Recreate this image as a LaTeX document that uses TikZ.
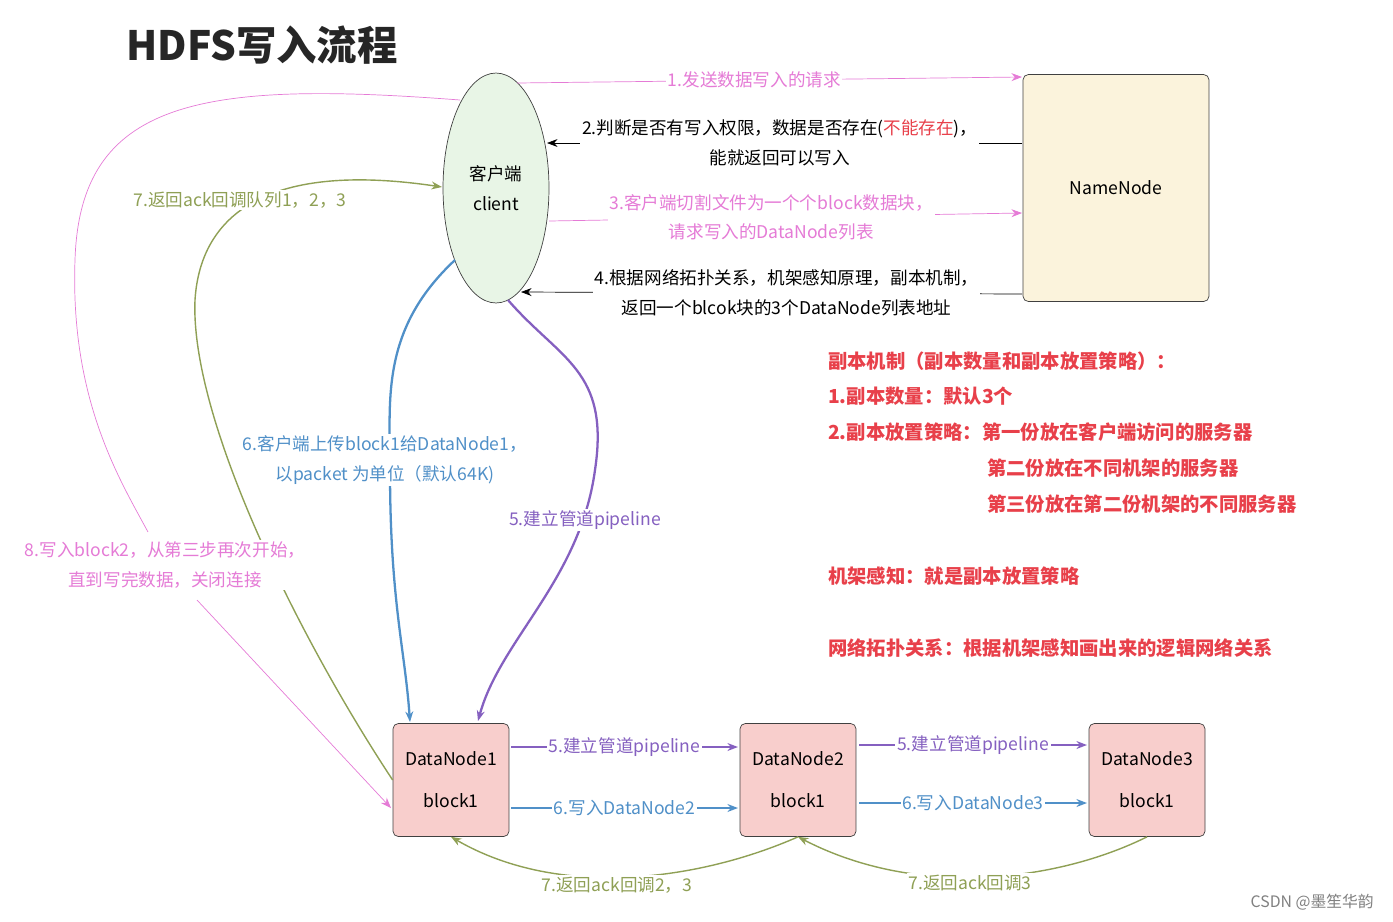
\documentclass[tikz,border=0pt]{standalone}
\usepackage{fontspec}
\setmainfont{Noto Sans CJK SC}
\usetikzlibrary{shapes.geometric,arrows.meta}
\definecolor{pk}{HTML}{E57BD6}
\definecolor{pu}{HTML}{8560C0}
\definecolor{bl}{HTML}{5090C8}
\definecolor{ol}{HTML}{8FA055}
\definecolor{rd}{HTML}{E8404A}
\definecolor{gf}{HTML}{E8F5E6}
\definecolor{yf}{HTML}{FBF3DC}
\definecolor{df}{HTML}{F8CECC}
\begin{document}
\begin{tikzpicture}[x=0.02cm,y=-0.02cm,
  lab/.style={font=\fontsize{10}{17}\selectfont,fill=white,inner sep=1pt,align=center},
  dn/.style={draw=black!75,fill=df,rounded corners=3pt,minimum width=2.32cm,minimum height=2.26cm,align=center,font=\fontsize{10}{24}\selectfont},
  ar/.style={-{Stealth[length=6pt]},thick},
  red/.style={text=rd,font=\bfseries\fontsize{11}{13}\selectfont,anchor=west}]
\useasboundingbox (0,0) rectangle (1393,921);
\node[font=\bfseries\fontsize{23}{26}\selectfont,text=black!85] (t) at (262,45) {HDFS写入流程};
\node[ellipse,draw=black!75,fill=gf,minimum width=2.12cm,minimum height=4.6cm,align=center,font=\fontsize{10}{17}\selectfont] (c) at (496,188) {客户端\\client};
\node[draw=black!75,fill=yf,rounded corners=3pt,minimum width=3.72cm,minimum height=4.54cm,font=\fontsize{10}{12}\selectfont] (nn) at (1116,188) {NameNode};
\node[dn] (d1) at (451,780) {DataNode1\\block1};
\node[dn] (d2) at (798,780) {DataNode2\\block1};
\node[dn] (d3) at (1147,780) {DataNode3\\block1};
\coordinate (n1) at (1022,77); \coordinate (n2) at (1022,143);
\coordinate (n3) at (1022,213); \coordinate (n4) at (1022,294);
\coordinate (d1t) at (478,721);
\draw[ar,pk,thin] (517,83) -- (n1) node[lab,pos=0.47,text=pk]{1.发送数据写入的请求};
\draw[ar,black,thin] (n2) -- (547,143) node[lab,pos=0.51]{2.判断是否有写入权限，数据是否存在(\textcolor{rd}{不能存在})，\\能就返回可以写入};
\draw[ar,pk,thin] (549,221) -- (n3) node[lab,pos=0.47,text=pk]{3.客户端切割文件为一个个block数据块，\\请求写入的DataNode列表};
\draw[ar,black,thin] (n4) -- (521,292) node[lab,pos=0.47]{4.根据网络拓扑关系，机架感知原理，副本机制，\\返回一个blcok块的3个DataNode列表地址};
\draw[ar,pu,line width=1.3pt] (508,300) .. controls (560,360) and (610,370) .. (595,470) .. controls (580,580) and (500,640) .. (d1t);
\node[lab,text=pu] at (585,520) {5.建立管道pipeline};
\draw[ar,bl,line width=1.3pt] (455,260) .. controls (380,330) and (390,400) .. (390,470) .. controls (390,600) and (405,650) .. (410,722);
\node[lab,text=bl] at (385,460) {6.客户端上传block1给DataNode1，\\以packet 为单位（默认64K)};
\draw[ar,ol] (d1.west) .. controls (300,640) and (190,420) .. (195,300) .. controls (200,220) and (260,160) .. (442,187);
\node[lab,text=ol] at (240,200) {7.返回ack回调队列1，2，3};
\draw[pk] (460,100) .. controls (200,80) and (80,100) .. (75,260) .. controls (70,400) and (120,480) .. (148,532);
\draw[ar,pk,thin] (197,600) -- (391,808);
\node[lab,text=pk] at (165,565) {8.写入block2，从第三步再次开始，\\直到写完数据，关闭连接};
\draw[ar,pu,line width=1.3pt] (511,747) -- (738,747) node[lab,midway,text=pu]{5.建立管道pipeline};
\draw[ar,bl,line width=1.3pt] (511,808) -- (738,808) node[lab,midway,text=bl]{6.写入DataNode2};
\draw[ar,pu,line width=1.3pt] (859,745) -- (1087,745) node[lab,midway,text=pu]{5.建立管道pipeline};
\draw[ar,bl,line width=1.3pt] (859,803) -- (1087,803) node[lab,midway,text=bl]{6.写入DataNode3};
\draw[ar,ol] (d2.south) .. controls (700,880) and (560,900) .. (d1.south);
\node[lab,text=ol] at (617,885) {7.返回ack回调2，3};
\draw[ar,ol] (d3.south) .. controls (1060,880) and (920,900) .. (d2.south);
\node[lab,text=ol] at (970,883) {7.返回ack回调3};
\node[red] (r1) at (822,361) {副本机制（副本数量和副本放置策略）：};
\node[red] (r2) at (822,396) {1.副本数量：默认3个};
\node[red] (r3) at (822,432) {2.副本放置策略：第一份放在客户端访问的服务器};
\node[red] (r4) at (981,468) {第二份放在不同机架的服务器};
\node[red] (r5) at (981,504) {第三份放在第二份机架的不同服务器};
\node[red] (r6) at (822,576) {机架感知：就是副本放置策略};
\node[red] (r7) at (822,648) {网络拓扑关系：根据机架感知画出来的逻辑网络关系};
\node[text=black!50,font=\fontsize{9}{10}\selectfont,anchor=east] (w) at (1380,902) {CSDN @墨笙华韵};
\end{tikzpicture}
\end{document}
